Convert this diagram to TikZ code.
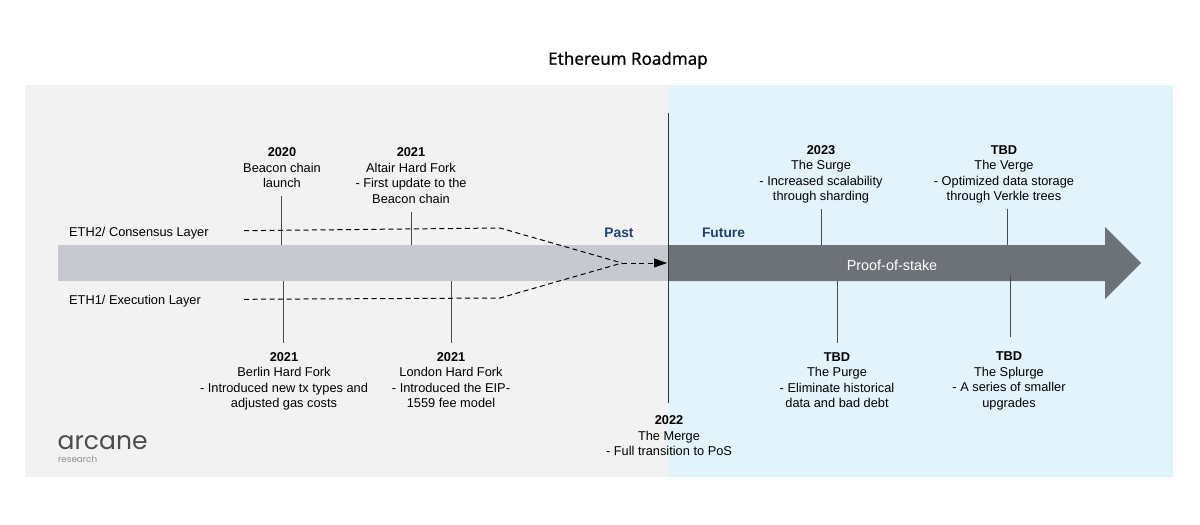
\documentclass[tikz,border=0pt]{standalone}
\usepackage{fontspec}
\setmainfont{Liberation Sans}
\newfontfamily\titlefont[FakeBold=0.5]{Noto Sans}
\newfontfamily\logofont{Poppins}
\usetikzlibrary{arrows.meta}
\definecolor{panelgrey}{HTML}{F2F2F3}
\definecolor{panelblue}{HTML}{E3F3FB}
\definecolor{barlight}{HTML}{C6C9CF}
\definecolor{bardark}{HTML}{6D7278}
\definecolor{navy}{HTML}{1F4272}
\definecolor{tickgrey}{HTML}{4A4A4A}
\tikzset{
  info/.style={align=center,inner sep=0pt,font=\fontsize{12.8}{15.5}\selectfont,text=black},
  side/.style={anchor=west,inner sep=0pt,font=\fontsize{12.8}{15}\selectfont,text=black},
  era/.style={inner sep=0pt,font=\fontsize{13.8}{15}\selectfont\bfseries,text=navy},
  tick/.style={draw=tickgrey,line width=0.9pt},
  merge/.style={draw=black,line width=1pt,dash pattern=on 5pt off 3.5pt}
}
\begin{document}
\begin{tikzpicture}[x=1pt,y=-1pt]
\useasboundingbox (0,0) rectangle (1200,525);
\fill[white] (0,0) rectangle (1200,525);
\fill[panelgrey] (25,85) rectangle (669,477);
\fill[panelblue] (669,85) rectangle (1173,477);
\fill[barlight] (58,245) rectangle (668,281);
\fill[bardark] (668,245) -- (1105,245) -- (1105,227) -- (1141,263) -- (1105,299) -- (1105,281) -- (668,281) -- cycle;

\node[inner sep=0pt,font=\fontsize{17}{19}\selectfont\titlefont] (title) at (628,60.3) {Ethereum Roadmap};
\node[inner sep=0pt,font=\fontsize{14.4}{16}\selectfont,text=white] (pos) at (892,265.5) {Proof-of-stake};
\node[era] (past) at (619,232.5) {Past};
\node[era] (future) at (723.5,232.5) {Future};
\node[side] (eth2) at (69,232.8) {ETH2/ Consensus Layer};
\node[side] (eth1) at (69,300.8) {ETH1/ Execution Layer};

\node[info] (beacon) at (282,167.8) {\textbf{2020}\\Beacon chain\\launch};
\node[info] (altair) at (411,175.4) {\textbf{2021}\\Altair Hard Fork\\- First update to the\\Beacon chain};
\node[info] (surge) at (821,174.6) {\textbf{2023}\\The Surge\\- Increased scalability\\through sharding};
\node[info] (verge) at (1004,174.6) {\textbf{TBD}\\The Verge\\- Optimized data storage\\through Verkle trees};
\node[info] (berlin) at (284,381.4) {\textbf{2021}\\Berlin Hard Fork\\- Introduced new tx types and\\adjusted gas costs};
\node[info] (london) at (451,380.3) {\textbf{2021}\\London Hard Fork\\- Introduced the EIP-\\1559 fee model};
\node[info] (purge) at (837,380.3) {\textbf{TBD}\\The Purge\\- Eliminate historical\\data and bad debt};
\node[info] (splurge) at (1009,380.9) {\textbf{TBD}\\The Splurge\\- A series of smaller\\upgrades};
\node[info] (merge) at (669,436) {\textbf{2022}\\The Merge\\- Full transition to PoS};

\node[inner sep=0pt,anchor=west,font=\fontsize{25}{25}\selectfont\logofont,text=black!70] (arcane) at (57.5,443) {arcane};
\node[inner sep=0pt,anchor=west,font=\fontsize{8.8}{10}\selectfont\logofont,text=black!45] (research) at (58,459) {research};

\coordinate (t1a) at (281,196); \coordinate (t1b) at (281,245);
\coordinate (t2a) at (411,212); \coordinate (t2b) at (411,245);
\coordinate (t3a) at (821.5,209); \coordinate (t3b) at (821.5,245);
\coordinate (t4a) at (1007.5,209); \coordinate (t4b) at (1007.5,245);
\coordinate (b1a) at (283.5,281); \coordinate (b1b) at (283.5,343);
\coordinate (b2a) at (451,281); \coordinate (b2b) at (451,343);
\coordinate (b3a) at (837,281); \coordinate (b3b) at (837,343);
\coordinate (b4a) at (1010,275); \coordinate (b4b) at (1010,337);
\coordinate (mt) at (668.6,113); \coordinate (mb) at (668.6,403);
\foreach \a/\b in {t1a/t1b,t2a/t2b,t3a/t3b,t4a/t4b,b1a/b1b,b2a/b2b,b3a/b3b,b4a/b4b}
  \draw[tick] (\a) -- (\b);
\draw[draw=black!80,line width=1pt] (mt) -- (mb);

\coordinate (u0) at (244,230.7); \coordinate (u1) at (500,228);
\coordinate (l0) at (244,299.3); \coordinate (l1) at (500,298);
\coordinate (j) at (622,263); \coordinate (tip) at (667,263);
\draw[merge] (u0) -- (u1) -- (j);
\draw[merge] (l0) -- (l1) -- (j);
\draw[merge,-{Triangle[length=13pt,width=9pt]}] (j) -- (tip);
\end{tikzpicture}
\end{document}
